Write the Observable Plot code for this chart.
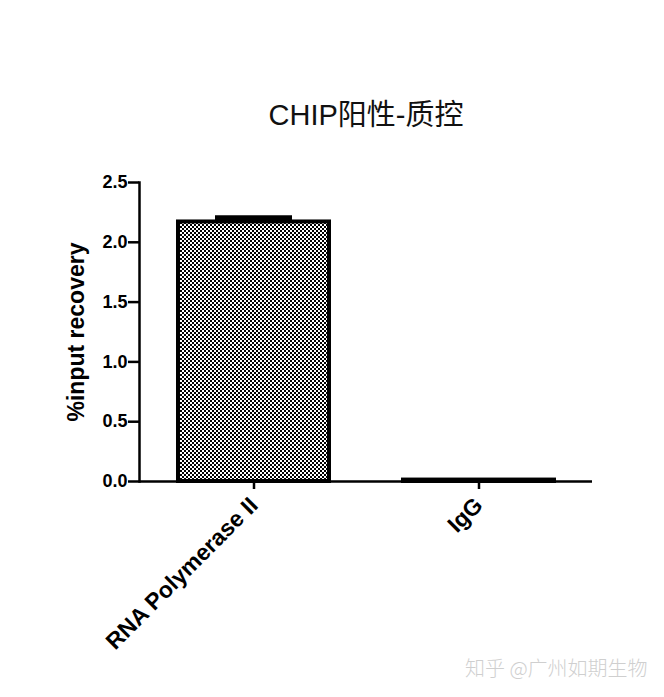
<!DOCTYPE html>
<html>
<head>
<meta charset="utf-8">
<script src="https://cdn.jsdelivr.net/npm/d3@7"></script>
<script src="https://cdn.jsdelivr.net/npm/@observablehq/plot@0.6"></script>
<style>
  body { margin: 0; background: #fff; }
  #title { height: 130px; box-sizing: border-box; padding-top: 101px; padding-left: 68px; width: 664px;
    text-align: center; font-family: "Liberation Sans", Arial, "Noto Sans CJK SC", sans-serif; font-size: 29px;
    line-height: 29px; color: #111; }
  #watermark { position: absolute; left: 465px; top: 653px; font-family: "Noto Sans CJK SC", sans-serif;
    font-weight: 300; font-size: 20px; color: #cfcfcf; }
</style>
</head>
<body>
<div id="title">CHIP阳性-质控</div>
<div id="chart"></div>
<div id="watermark">知乎 @广州如期生物</div>
<script>
const categories = ["RNA Polymerase II", "IgG"];
const values = [2.17, 0.012];
const errors = [0.035, 0.003];
const yTicks = [0, 0.5, 1.0, 1.5, 2.0, 2.5];
const yLabel = "%input recovery";

const data = categories.map((c, i) => ({name: c, value: values[i], err: errors[i]}));
const font = "'Liberation Sans', Arial, sans-serif";

const chart = Plot.plot({
  width: 664,
  height: 567,
  marginTop: 52,
  marginBottom: 216,
  marginLeft: 139,
  marginRight: 72,
  style: {fontFamily: font, color: "black", background: "white"},
  x: {domain: categories, paddingInner: 0.33, paddingOuter: 0.17},
  y: {domain: [0, 2.5]},
  marks: [
    Plot.barY(data, {x: "name", y: "value", fill: "url(#checker)", stroke: "black", strokeWidth: 4}),
    Plot.ruleX(data, {x: "name", y1: "value", y2: d => d.value + d.err, stroke: "black", strokeWidth: 2.5}),
    Plot.tickY(data.filter(d => d.value > 0.5), {x: "name", y: d => d.value + d.err, stroke: "black", strokeWidth: 5, insetLeft: 37, insetRight: 37}),
    Plot.ruleY([0], {stroke: "black", strokeWidth: 2.5}),
    Plot.frame({anchor: "left", stroke: "black", strokeWidth: 2.5}),
    Plot.axisY({ticks: yTicks, tickFormat: d3.format(".1f"), tickSize: 11, tickPadding: 1, strokeWidth: 2.5,
      fontSize: 18, fontWeight: "bold", label: null}),
    Plot.axisX({tickSize: 8, tickPadding: 12, strokeWidth: 2.5, tickRotate: -45, fontSize: 23, fontWeight: "bold", label: null}),
    Plot.text([yLabel], {frameAnchor: "left", dx: -63, textAnchor: "middle", rotate: -90, fontSize: 23, fontWeight: "bold", fill: "black"})
  ]
});

// checker pattern definition for bar fill
const svg = d3.select(chart.tagName.toLowerCase() === "svg" ? chart : chart.querySelector("svg"));
const defs = svg.insert("defs", ":first-child");
const pat = defs.append("pattern").attr("id", "checker").attr("patternUnits", "userSpaceOnUse")
  .attr("width", 4).attr("height", 4);
pat.append("rect").attr("width", 4).attr("height", 4).attr("fill", "white");
pat.append("rect").attr("width", 2).attr("height", 2).attr("fill", "black");
pat.append("rect").attr("x", 2).attr("y", 2).attr("width", 2).attr("height", 2).attr("fill", "black");

document.getElementById("chart").appendChild(chart);
</script>
</body>
</html>
